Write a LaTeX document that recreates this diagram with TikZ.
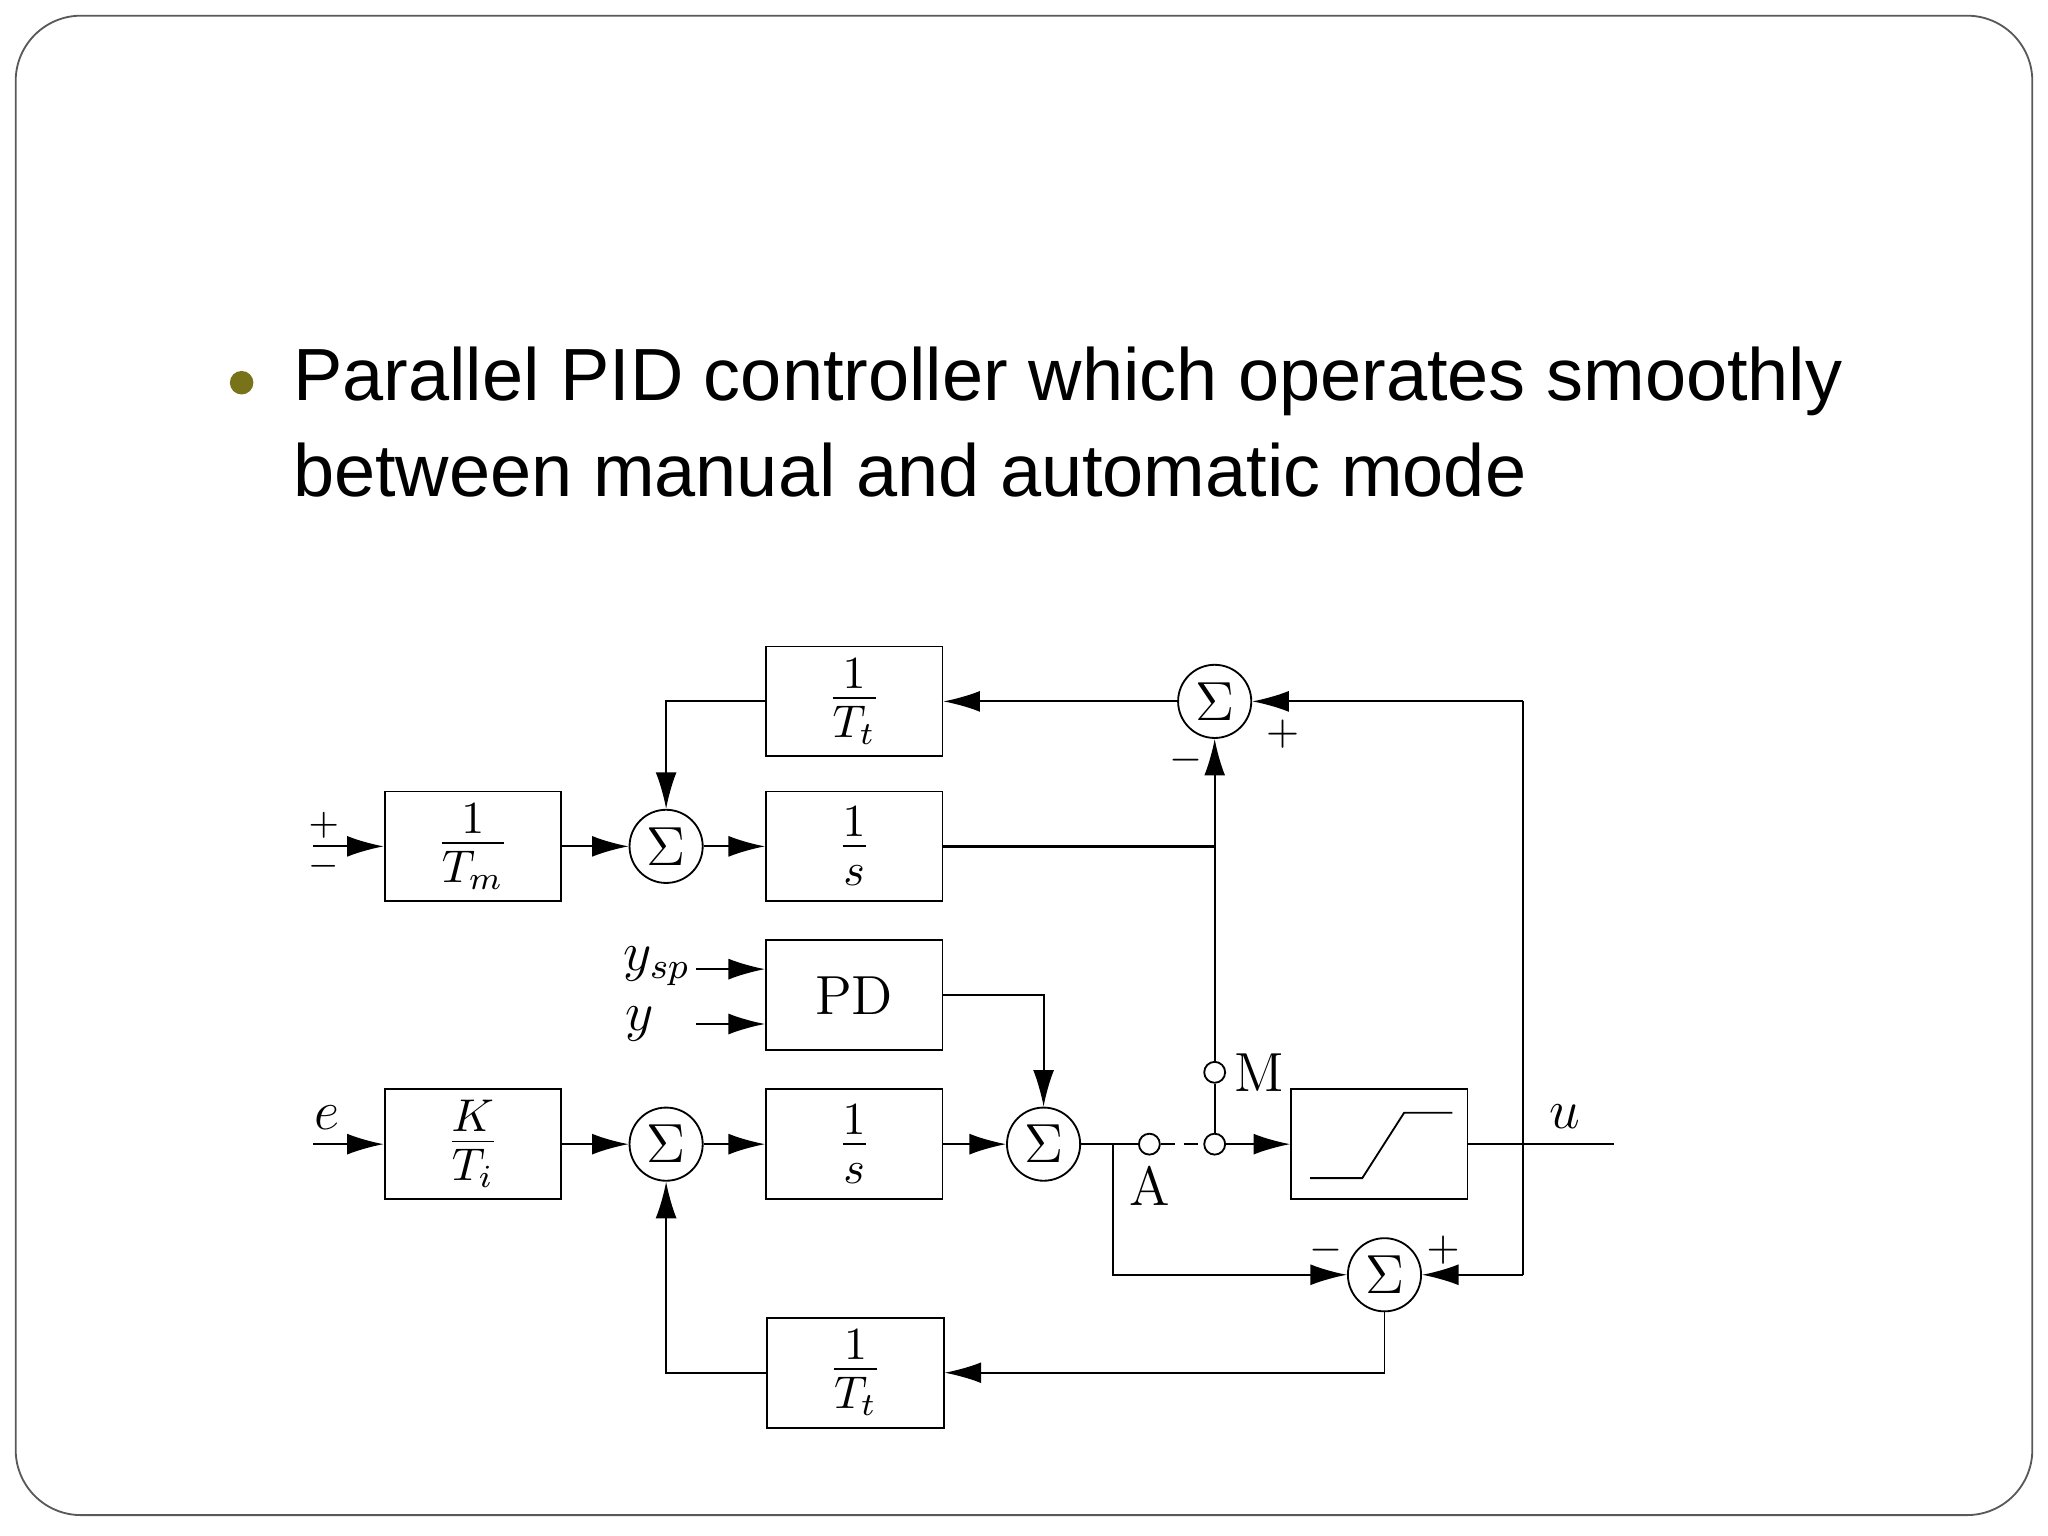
\documentclass[tikz,border=0pt]{standalone}
\usepackage{fontspec}
\newfontfamily\slidefont{Liberation Sans}
\usetikzlibrary{arrows.meta}
\tikzset{
  blk/.style={draw, minimum width=1.35cm, minimum height=0.84cm, inner sep=0pt, font=\Large},
  sum/.style={draw, circle, minimum size=0.56cm, inner sep=0pt, font=\large},
  sw/.style={draw, circle, fill=white, minimum size=0.16cm, inner sep=0pt},
  arr/.style={-{Latex[length=0.28cm,width=0.16cm]}},
  lbl/.style={font=\large}
}
\begin{document}
\begin{tikzpicture}[x=0.01cm, y=-0.01cm]
  \useasboundingbox (0,0) rectangle (1568,1176);
  \draw[gray!70!black, rounded corners=0.5cm] (12,12) rectangle (1556,1160);

  % title
  \fill[olive!80!black] (185,293) circle (0.09cm);
  \node[anchor=west, font=\slidefont\fontsize{16.1}{19}\selectfont] (t1) at (212,292) {Parallel PID controller which operates smoothly};
  \node[anchor=west, font=\slidefont\fontsize{16.1}{19}\selectfont] (t2) at (212,360) {between manual and automatic mode};

  % blocks
  \node[blk] (TtT) at (654,537) {$\frac{1}{T_t}$};
  \node[blk] (Tm) at (362,648) {$\frac{1}{T_m}$};
  \node[blk] (IntT) at (654,648) {$\frac{1}{s}$};
  \node[blk, font=\large] (PD) at (654,762) {PD};
  \node[blk] (KTi) at (362,876) {$\frac{K}{T_i}$};
  \node[blk] (IntB) at (654,876) {$\frac{1}{s}$};
  \node[blk] (sat) at (1056,876) {};
  \node[blk] (TtB) at (655,1051) {$\frac{1}{T_t}$};
  \draw (1003,902) -- (1043,902) -- (1075,852) -- (1112,852);

  % summation points
  \node[sum] (sT) at (930,537) {$\Sigma$};
  \node[sum] (s1) at (510,648) {$\Sigma$};
  \node[sum] (s2) at (510,876) {$\Sigma$};
  \node[sum] (s3) at (799,876) {$\Sigma$};
  \node[sum] (s4) at (1060,976) {$\Sigma$};

  % switch
  \node[sw] (A) at (880,876) {};
  \node[sw] (C) at (930,876) {};
  \node[sw] (M) at (930,821) {};

  % coordinates
  \coordinate (in1) at (240,648);
  \coordinate (inE) at (240,876);
  \coordinate (inY1) at (533,742);
  \coordinate (inY2) at (533,784);
  \coordinate (J) at (930,648);
  \coordinate (R1) at (1166,537);
  \coordinate (R2) at (1166,976);
  \coordinate (U) at (1236,876);
  \coordinate (B) at (852,876);

  % labels
  \node[font=\footnotesize] (pl) at (248,632) {$+$};
  \node[font=\footnotesize] (mi) at (248,663) {$-$};
  \node[lbl] (ysp) at (503,740) {$y_{sp}$};
  \node[lbl] (yy) at (490,784) {$y$};
  \node[lbl] (ee) at (250,856) {$e$};
  \node[lbl] (uu) at (1198,855) {$u$};
  \node[lbl] (la) at (880,908) {A};
  \node[lbl] (lm) at (964,821) {M};
  \node[font=\small] (m1) at (908,582) {$-$};
  \node[font=\small] (p1) at (982,562) {$+$};
  \node[font=\small] (m4) at (1015,957) {$-$};
  \node[font=\small] (p4) at (1105,957) {$+$};

  % connectors
  \draw[arr] (in1) -- (Tm);
  \draw[arr] (Tm) -- (s1);
  \draw[arr] (s1) -- (IntT);
  \draw[arr] (TtT.west) -| (s1.north);
  \draw[thick] (IntT.east) -- (J);
  \draw[arr] (M.north) -- (sT.south);
  \draw (R1) -- (R2);
  \draw[arr] (R1) -- (sT.east);
  \draw[arr] (sT) -- (TtT);
  \draw[arr] (inY1) -- (inY1 -| PD.west);
  \draw[arr] (inY2) -- (inY2 -| PD.west);
  \draw[arr] (PD.east) -| (s3.north);
  \draw[arr] (inE) -- (KTi);
  \draw[arr] (KTi) -- (s2);
  \draw[arr] (s2) -- (IntB);
  \draw[arr] (IntB) -- (s3);
  \draw (s3) -- (A);
  \draw[densely dashed] (A) -- (C);
  \draw (C) -- (M);
  \draw[arr] (C) -- (sat);
  \draw (sat) -- (U);
  \draw[arr] (B) |- (s4.west);
  \draw[arr] (R2) -- (s4.east);
  \draw[arr] (s4.south) |- (TtB.east);
  \draw[arr] (TtB.west) -| (s2.south);
\end{tikzpicture}
\end{document}
